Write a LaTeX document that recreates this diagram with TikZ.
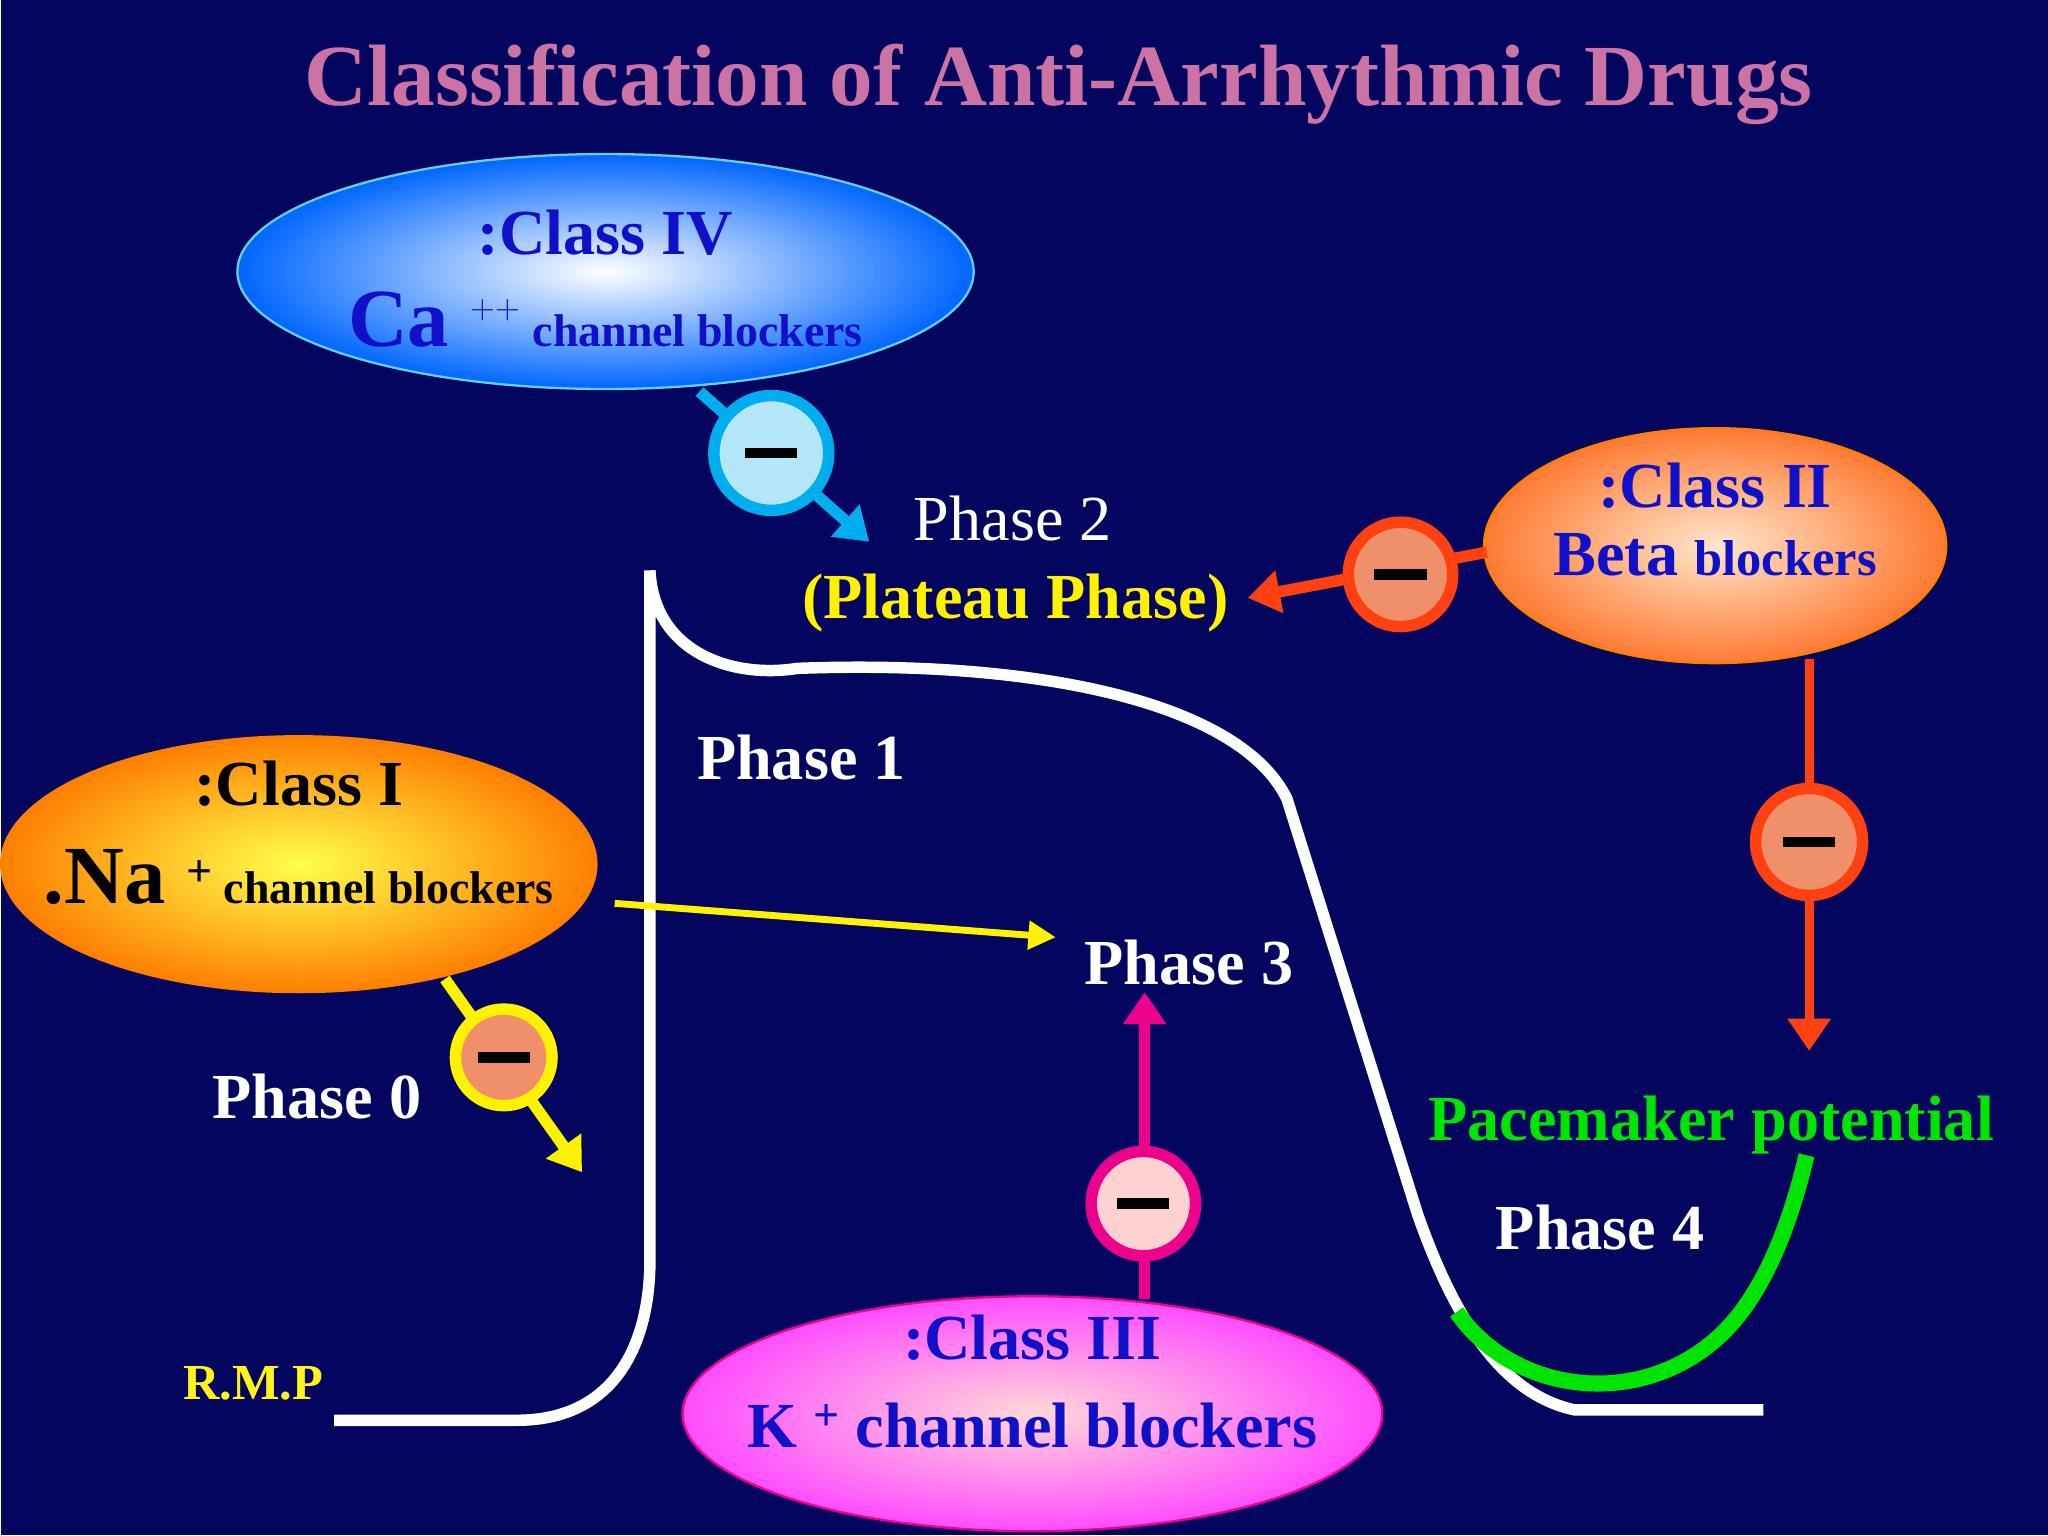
\documentclass[tikz,border=0pt]{standalone}
\usepackage{fontspec}
\setmainfont{Liberation Serif}
\usetikzlibrary{arrows.meta,shapes.geometric}
\definecolor{bg}{HTML}{03055E}
\definecolor{txtblue}{HTML}{1010C8}
\definecolor{orng}{HTML}{FF4010}
\definecolor{salm}{HTML}{F0906A}
\begin{document}
\begin{tikzpicture}[x=0.02cm,y=-0.02cm,
  lbl/.style={font=\fontsize{28}{30}\selectfont\bfseries,text=white,inner sep=0},
  big/.style={font=\fontsize{28}{32}\selectfont\bfseries,text=txtblue,align=center,inner sep=0},
  oval/.style={ellipse,draw=#1,line width=1pt},
  minus/.style n args={2}{circle,minimum size=70*0.02cm,draw=#1,fill=#2,line width=5pt,inner sep=0},
  arr/.style={line width=5pt,-{Triangle[length=14pt,width=18pt]}}]
\fill[bg] (0,0) rectangle (1568,1176);
\node[font=\fontsize{38}{40}\selectfont\bfseries,text=violet!40!pink] (title) at (810,65) {Classification of Anti-Arrhythmic Drugs};
% action potential
\draw[white,line width=5pt] (255,1088) -- (395,1088) .. controls (470,1088) and (497,1030) .. (497,965) -- (497,437)
  .. controls (500,500) and (560,520) .. (610,512) .. controls (800,505) and (950,540) .. (985,612)
  -- (1085,930) .. controls (1120,1030) and (1160,1070) .. (1205,1080) -- (1350,1080);
\draw[green!90!black,line width=7pt] (1115,1005) .. controls (1160,1070) and (1260,1080) .. (1320,1020) .. controls (1350,990) and (1370,940) .. (1383,885);
% ellipses
\node[oval=cyan!60,shade,inner color=white,outer color=blue!60!cyan,minimum width=564*0.02cm,minimum height=180*0.02cm] (c4) at (463,208) {};
\node[big] at (463,178) {:Class IV};
\node[big] at (463,245) {\fontsize{36}{36}\selectfont Ca \fontsize{20}{20}\selectfont\raisebox{0.5ex}{$^{++}$} channel blockers};
\node[oval=orange,shade,inner color=white!80!orange,outer color=orange!70!red!80!white,minimum width=354*0.02cm,minimum height=180*0.02cm] (c2) at (1313,418) {};
\node[big] at (1313,372) {:Class II};
\node[big] at (1313,425) {Beta {\fontsize{22}{22}\selectfont blockers}};
\node[oval=orange,shade,inner color=yellow!70!white,outer color=orange,minimum width=456*0.02cm,minimum height=196*0.02cm] (c1) at (228,662) {};
\node[big,text=black] at (228,600) {:Class I};
\node[big,text=black] at (228,672) {\fontsize{36}{36}\selectfont .Na \fontsize{20}{20}\selectfont\raisebox{0.8ex}{+} channel blockers};
\node[oval=magenta,shade,inner color=pink!60!white,outer color=magenta!70,minimum width=536*0.02cm,minimum height=180*0.02cm] (c3) at (790,1083) {};
\node[big] at (790,1025) {:Class III};
\node[big] at (790,1092) {K {\fontsize{20}{20}\selectfont\raisebox{0.8ex}{+}} channel blockers};
% labels
\node[lbl,font=\fontsize{28}{30}\selectfont] (p2) at (775,397) {Phase 2};
\node[lbl,text=yellow] (pp) at (777,462) {(Plateau Phase)};
\node[lbl] (p1) at (613,580) {Phase 1};
\node[lbl] (p3) at (910,737) {Phase 3};
\node[lbl] (p0) at (242,840) {Phase 0};
\node[lbl] (p4) at (1225,940) {Phase 4};
\node[lbl,text=green!90!black] (pm) at (1310,862) {Pacemaker potential};
\node[lbl,text=yellow!90!white,font=\fontsize{22}{24}\selectfont\bfseries] (rmp) at (193,1060) {R.M.P};
% coordinates
\coordinate (a4s) at (535,300); \coordinate (a4e) at (665,415);
\coordinate (a2s) at (1138,423); \coordinate (a2e) at (955,458);
\coordinate (b2s) at (1385,505); \coordinate (b2e) at (1385,805);
\coordinate (a1s) at (340,750); \coordinate (a1e) at (445,898);
\coordinate (y1s) at (470,692); \coordinate (y1e) at (808,718);
\coordinate (a3s) at (876,995); \coordinate (a3e) at (876,760);
% arrows
\draw[arr,cyan] (a4s) -- (a4e);
\draw[arr,orng] (a2s) -- (a2e);
\draw[arr,orng,line width=4pt] (b2s) -- (b2e);
\draw[arr,yellow] (a1s) -- (a1e);
\draw[yellow,line width=3pt,-{Triangle[length=12pt,width=12pt]}] (y1s) -- (y1e);
\draw[arr,magenta] (a3s) -- (a3e);
% minus badges
\node[minus={cyan}{cyan!30!white},minimum width=88*0.02cm] (m4) at (590,347) {};
\node[minus={orng}{salm},minimum width=80*0.02cm] (m2) at (1072,440) {};
\node[minus={orng}{salm},minimum width=82*0.02cm] (m2b) at (1385,645) {};
\node[minus={yellow}{salm},minimum width=74*0.02cm] (m1) at (385,810) {};
\node[minus={magenta}{pink!70!white},minimum width=80*0.02cm] (m3) at (875,922) {};
\foreach \m in {m4,m2,m2b,m1,m3} \fill[black] ([xshift=-20*0.02cm,yshift=-4*0.02cm]\m.center) rectangle ([xshift=20*0.02cm,yshift=4*0.02cm]\m.center);
\end{tikzpicture}
\end{document}
